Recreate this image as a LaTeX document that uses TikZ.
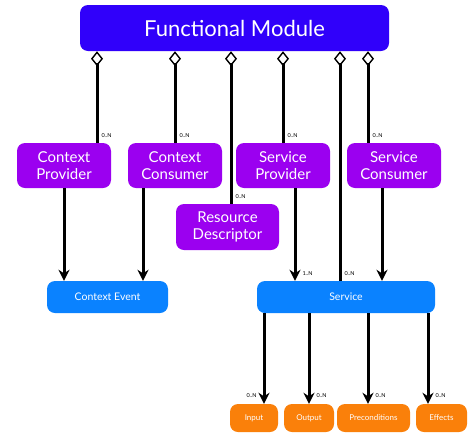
\documentclass[tikz,border=0pt]{standalone}
\usepackage{fontspec}
\setmainfont{Lato}
\usepackage{xcolor}
\usepackage{tikz}
\usetikzlibrary{arrows.meta,shapes}

\definecolor{modblue}{RGB}{48,0,250}
\definecolor{rolepurple}{RGB}{155,0,240}
\definecolor{entblue}{RGB}{10,130,255}
\definecolor{parorange}{RGB}{250,128,10}

\begin{document}
\begin{tikzpicture}[x=1pt,y=-1pt]
      \tikzstyle{box}=[rounded corners=8pt, text=white, align=center, inner sep=0pt]
      \tikzstyle{module}=[box, fill=modblue, minimum width=309pt, minimum height=46pt, font=\fontsize{22}{25}\selectfont]
      \tikzstyle{role}=[box, fill=rolepurple, minimum width=94pt, minimum height=45pt, font=\fontsize{15}{17.5}\selectfont]
      \tikzstyle{entity}=[box, fill=entblue, minimum height=32pt, font=\fontsize{10.5}{12}\selectfont]
      \tikzstyle{param}=[box, fill=parorange, minimum height=28pt, font=\fontsize{8}{9.5}\selectfont]
      \tikzstyle{has}=[line width=3pt, -{Diamond[open, line width=1.4pt, length=15pt, width=12pt]}]
      \tikzstyle{uses}=[line width=3pt, -{Stealth[length=11pt, width=11pt]}]
      \tikzstyle{card}=[font=\fontsize{5.5}{6}\selectfont, inner sep=1pt]

      \useasboundingbox (0,0) rectangle (474,437);

      \node [module] (fm) at (234.5,28) {Functional Module};

      \node [role] (ctxprov) at (64,165.5) {Context\\Provider};
      \node [role] (ctxcons) at (175,165.5) {Context\\Consumer};
      \node [role] (srvprov) at (283,165.5) {Service\\Provider};
      \node [role] (srvcons) at (394,165.5) {Service\\Consumer};
      \node [role, minimum width=103pt, minimum height=46pt] (resdesc) at (227.5,227) {Resource\\Descriptor};

      \node [entity, minimum width=121pt] (ctxevt) at (107.5,297) {Context Event};
      \node [entity, minimum width=178pt] (srv) at (346,297) {Service};

      \node [param, minimum width=48pt] (input) at (254,418) {Input};
      \node [param, minimum width=50pt] (output) at (309,418) {Output};
      \node [param, minimum width=73pt] (precond) at (373.5,418) {Preconditions};
      \node [param, minimum width=51pt] (effects) at (441.5,418) {Effects};

      % module aggregation
      \draw [has] ([xshift=33pt]ctxprov.north) -- ([xshift=33pt]ctxprov.north |- fm.south)
        node [card, pos=0, anchor=south west, xshift=2pt, yshift=3pt] {0..N};
      \draw [has] (ctxcons.north) -- (ctxcons.north |- fm.south)
        node [card, pos=0, anchor=south west, xshift=2pt, yshift=3pt] {0..N};
      \draw [has] ([xshift=3.5pt]resdesc.north) -- ([xshift=3.5pt]resdesc.north |- fm.south)
        node [card, pos=0, anchor=south west, xshift=2pt, yshift=3pt] {0..N};
      \draw [has] (srvprov.north) -- (srvprov.north |- fm.south)
        node [card, pos=0, anchor=south west, xshift=2pt, yshift=3pt] {0..N};
      \draw [has] ([xshift=-6pt]srv.north) -- ([xshift=-6pt]srv.north |- fm.south)
        node [card, pos=0, anchor=south west, xshift=2pt, yshift=3pt] {0..N};
      \draw [has] ([xshift=-26pt]srvcons.north) -- ([xshift=-26pt]srvcons.north |- fm.south)
        node [card, pos=0, anchor=south west, xshift=2pt, yshift=3pt] {0..N};

      % roles to events and services
      \draw [uses] (ctxprov.south) -- (ctxprov.south |- ctxevt.north);
      \draw [uses] ([xshift=-32pt]ctxcons.south) -- ([xshift=-32pt]ctxcons.south |- ctxevt.north);
      \draw [uses] ([xshift=12pt]srvprov.south) -- ([xshift=12pt]srvprov.south |- srv.north)
        node [card, pos=1, anchor=south west, xshift=5pt, yshift=3pt] {1..N};
      \draw [uses] ([xshift=-12pt]srvcons.south) -- ([xshift=-12pt]srvcons.south |- srv.north);

      % service parameters
      \draw [uses] ([xshift=10pt]input.north |- srv.south) -- ([xshift=10pt]input.north)
        node [card, pos=1, anchor=south east, xshift=-5pt, yshift=4pt] {0..N};
      \draw [uses] (output.north |- srv.south) -- (output.north)
        node [card, pos=1, anchor=south west, xshift=5pt, yshift=4pt] {0..N};
      \draw [uses] ([xshift=-5.5pt]precond.north |- srv.south) -- ([xshift=-5.5pt]precond.north)
        node [card, pos=1, anchor=south west, xshift=5pt, yshift=4pt] {0..N};
      \draw [uses] ([xshift=-13.5pt]effects.north |- srv.south) -- ([xshift=-13.5pt]effects.north)
        node [card, pos=1, anchor=south west, xshift=5pt, yshift=4pt] {0..N};
\end{tikzpicture}
\end{document}
